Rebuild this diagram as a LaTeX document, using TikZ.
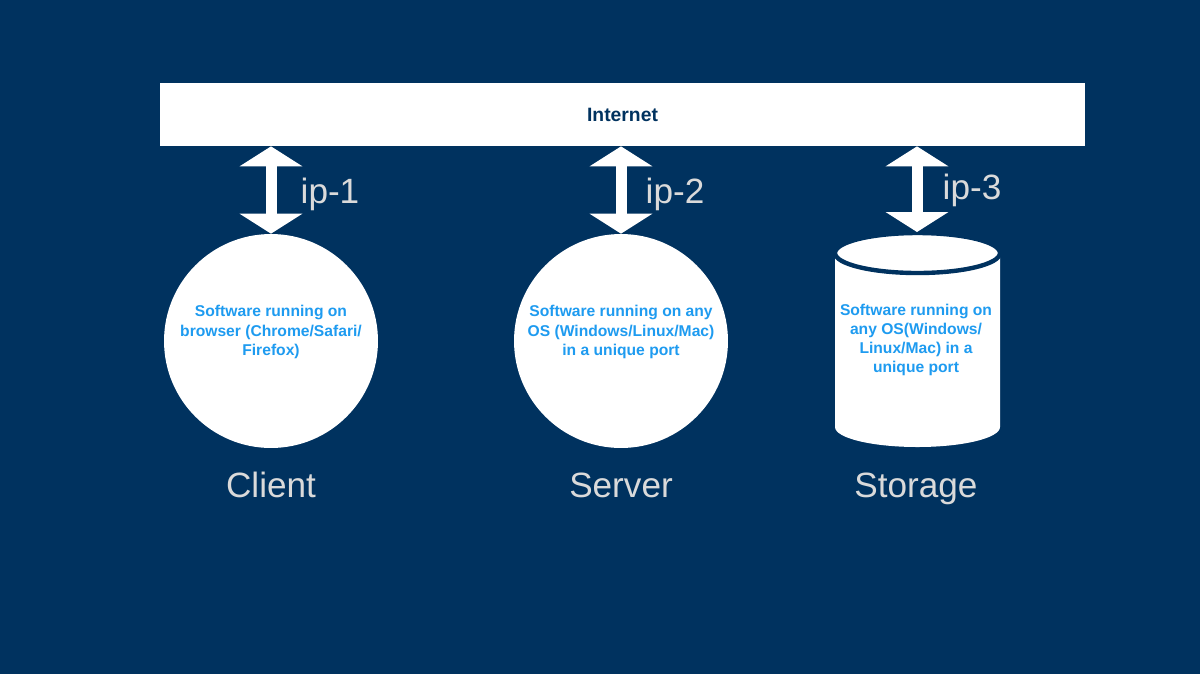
\documentclass[tikz,border=0pt]{standalone}
\usepackage{fontspec}
\setmainfont{Liberation Sans}
\usetikzlibrary{arrows.meta}
\definecolor{bg}{HTML}{00325F}
\definecolor{inblue}{HTML}{1E9BF0}
\definecolor{lgray}{HTML}{DADADA}
\begin{document}
\begin{tikzpicture}[x=0.02cm,y=-0.02cm,
  conn/.style={draw=white,line width=0.22cm,{Triangle[width=1.24cm,length=0.4cm]}-{Triangle[width=1.24cm,length=0.4cm]}},
  inner/.style={text=inblue,font=\bfseries\fontsize{8.9}{10.9}\selectfont,align=center},
  big/.style={text=lgray,anchor=base,font=\fontsize{20}{24}\selectfont}]
\fill[bg] (0,0) rectangle (1200,674);
\useasboundingbox (0,0) rectangle (1200,674);
\node[fill=white,minimum width=18.5cm,minimum height=1.26cm,inner sep=0,text=bg,font=\bfseries\fontsize{11}{12}\selectfont] (net) at (622.5,114.5) {Internet};
\node[circle,fill=white,minimum size=4.28cm,inner sep=0] (cl) at (271,341) {};
\node[circle,fill=white,minimum size=4.28cm,inner sep=0] (sv) at (621,341) {};
\coordinate (st) at (917,232);
\fill[white] (835,253) -- (835,427) arc[start angle=180,end angle=0,x radius=82.5,y radius=20] -- (1000,253) -- cycle;
\draw[bg,line width=2.5pt,fill=white] (917.5,253) ellipse[x radius=82.5,y radius=20];
\node[inner] at (271,332) {Software running on\\browser (Chrome/Safari/\\Firefox)};
\node[inner] at (621,332) {Software running on any\\OS (Windows/Linux/Mac)\\in a unique port};
\node[inner] at (916,340) {Software running on\\any OS(Windows/\\Linux/Mac) in a\\unique port};
\draw[conn] (net.south -| cl) -- (cl.north);
\draw[conn] (net.south -| sv) -- (sv.north);
\draw[conn] (net.south -| st) -- (st);
\node[big] (l1) at (330,203) {ip-1};
\node[big] (l2) at (675,203) {ip-2};
\node[big] (l3) at (972,199) {ip-3};
\node[big] (c) at (271,497) {Client};
\node[big] (s) at (621,497) {Server};
\node[big] (g) at (916,497) {Storage};
\end{tikzpicture}
\end{document}
